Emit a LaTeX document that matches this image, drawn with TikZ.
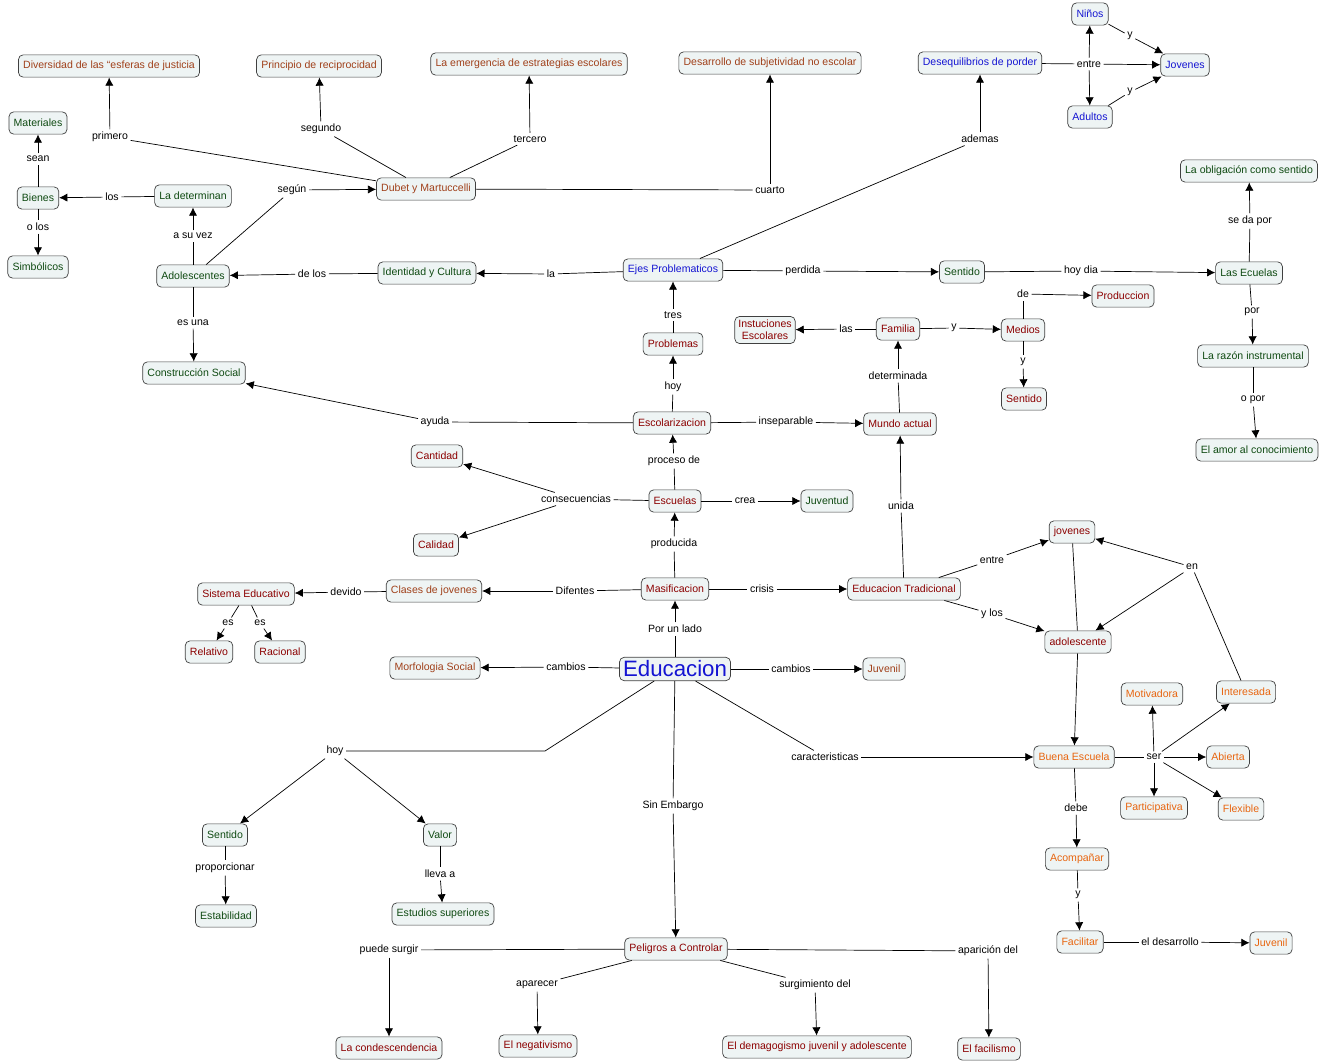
\documentclass[tikz,border=0pt]{standalone}
\usepackage{fontspec}
\setmainfont{Liberation Sans}
\usetikzlibrary{arrows.meta}
\definecolor{cR}{HTML}{A0401A}
\definecolor{cG}{HTML}{0F4A12}
\definecolor{cB}{HTML}{1414D2}
\definecolor{cO}{HTML}{E8650F}
\definecolor{cD}{HTML}{8B0000}
\definecolor{boxfill}{HTML}{EEF4F4}
\begin{document}
\begin{tikzpicture}[x=0.03cm,y=-0.03cm]
\tikzset{every node/.style={font=\fontsize{9}{10.5}\selectfont, align=center, inner sep=2pt}}
\tikzset{box/.style={draw=black!75, fill=boxfill, rounded corners=4pt, inner sep=4pt, minimum height=19pt}}
\tikzset{lbl/.style={fill=white, inner sep=2pt}}
\tikzset{every path/.style={line width=.6pt}}
\tikzset{arr/.style={-{Latex[length=7pt,width=7pt]}}}
\useasboundingbox (0,0) rectangle (1333,1064);
%%%%%%% boxes
\node(div)at(109,66)[box,text=cR]{Diversidad de las “esferas de justicia};
\node(prin)at(319,66)[box,text=cR]{Principio de reciprocidad};
\node(emer)at(529,64)[box,text=cR]{La emergencia de estrategias escolares};
\node(desa)at(770,63)[box,text=cR]{Desarrollo de subjetividad no escolar};
\node(deseq)at(980,63)[box,text=cB]{Desequilibrios de porder};
\node(ninos)at(1090,14)[box,text=cB]{Niños};
\node(jov)at(1185,65)[box,text=cB]{Jovenes};
\node(adul)at(1090,117)[box,text=cB]{Adultos};
\node(mat)at(38,123)[box,text=cG]{Materiales};
\node(bien)at(38,198)[box,text=cG]{Bienes};
\node(simb)at(38,267)[box,text=cG]{Simbólicos};
\node(ladet)at(193,196)[box,text=cG]{La determinan};
\node(dubet)at(426,189)[box,text=cR]{Dubet y Martuccelli};
\node(oblig)at(1249,171)[box,text=cG]{La obligación como sentido};
\node(adol)at(193,276)[box,text=cG]{Adolescentes};
\node(ident)at(427,273)[box,text=cG]{Identidad y Cultura};
\node(ejes)at(673,270)[box,text=cB]{Ejes Problematicos};
\node(sent1)at(962,272)[box,text=cG]{Sentido};
\node(ecuelas)at(1249,273)[box,text=cG]{Las Ecuelas};
\node(produc)at(1123,296)[box,text=cD]{Produccion};
\node(instuc)at(765,330)[box,text=cD,inner sep=3pt]{Instuciones\\Escolares};
\node(familia)at(898,329)[box,text=cD]{Familia};
\node(medios)at(1023,330)[box,text=cD]{Medios};
\node(sent2)at(1024,399)[box,text=cD]{Sentido};
\node(razon)at(1253,356)[box,text=cG]{La razón instrumental};
\node(constr)at(194,373)[box,text=cG]{Construcción Social};
\node(probl)at(673,344)[box,text=cD]{Problemas};
\node(escol)at(672,423)[box,text=cD]{Escolarizacion};
\node(mundo)at(900,424)[box,text=cD]{Mundo actual};
\node(amor)at(1257,450)[box,text=cG]{El amor al conocimiento};
\node(cantidad)at(437,456)[box,text=cD]{Cantidad};
\node(escuelas)at(675,501)[box,text=cD]{Escuelas};
\node(juventud)at(827,501)[box,text=cG]{Juventud};
\node(calidad)at(436,545)[box,text=cD]{Calidad};
\node(jovenes)at(1072,532)[box,text=cD]{jovenes};
\node(sistema)at(246,594)[box,text=cD]{Sistema Educativo};
\node(clases)at(434,591)[box,text=cR]{Clases de jovenes};
\node(masif)at(675,589)[box,text=cD]{Masificacion};
\node(edtrad)at(904,589)[box,text=cD]{Educacion Tradicional};
\node(relativo)at(209,652)[box,text=cD]{Relativo};
\node(racional)at(280,652)[box,text=cD]{Racional};
\node(morfo)at(435,668)[box,text=cR]{Morfologia Social};
\node(educ)at(675,669)[box,text=cB,font=\fontsize{19}{22}\selectfont,inner sep=3pt]{Educacion};
\node(juvenil)at(884,669)[box,text=cR]{Juvenil};
\node(adolesc)at(1078,642)[box,text=cD]{adolescente};
\node(motiv)at(1152,694)[box,text=cO]{Motivadora};
\node(interes)at(1246,692)[box,text=cO]{Interesada};
\node(buena)at(1074,757)[box,text=cO]{Buena Escuela};
\node(abierta)at(1228,757)[box,text=cO]{Abierta};
\node(particip)at(1154,808)[box,text=cO]{Participativa};
\node(flexible)at(1241,809)[box,text=cO]{Flexible};
\node(sent3)at(225,835)[box,text=cG]{Sentido};
\node(valor)at(440,835)[box,text=cG]{Valor};
\node(estab)at(226,916)[box,text=cG]{Estabilidad};
\node(estud)at(443,914)[box,text=cG]{Estudios superiores};
\node(acomp)at(1077,859)[box,text=cO]{Acompañar};
\node(facil)at(1080,942)[box,text=cO]{Facilitar};
\node(juvenil2)at(1271,943)[box,text=cO]{Juvenil};
\node(peligros)at(676,949)[box,text=cD]{Peligros a Controlar};
\node(condes)at(389,1048)[box,text=cD]{La condescendencia};
\node(negat)at(538,1046)[box,text=cD]{El negativismo};
\node(demag)at(817,1047)[box,text=cD]{El demagogismo juvenil y adolescente};
\node(facilis)at(989,1049)[box,text=cD]{El facilismo};
%%%%%%% linking phrases
\node(primero)at(110,137)[lbl]{primero};
\node(segundo)at(321,129)[lbl]{segundo};
\node(tercero)at(530,139)[lbl]{tercero};
\node(cuarto)at(770,190)[lbl]{cuarto};
\node(ademas)at(980,139)[lbl]{ademas};
\node(entre)at(1089,64)[lbl]{entre};
\node(y1)at(1130,36)[lbl]{y};
\node(y2)at(1130,92)[lbl]{y};
\node(sean)at(38,159)[lbl]{sean};
\node(los)at(112,197)[lbl]{los};
\node(olos)at(38,227)[lbl]{o los};
\node(asuvez)at(193,236)[lbl]{a su vez};
\node(segun)at(292,190)[lbl]{según};
\node(delos)at(312,274)[lbl]{de los};
\node(la)at(551,274)[lbl]{la};
\node(perdida)at(803,271)[lbl]{perdida};
\node(hoydia)at(1081,271)[lbl]{hoy dia};
\node(sedapor)at(1250,221)[lbl]{se da por};
\node(por)at(1252,312)[lbl]{por};
\node(de)at(1023,294)[lbl]{de};
\node(las)at(846,329)[lbl]{las};
\node(y3)at(954,328)[lbl]{y};
\node(y4)at(1023,362)[lbl]{y};
\node(tres)at(673,315)[lbl]{tres};
\node(esuna)at(193,323)[lbl]{es una};
\node(hoy1)at(673,387)[lbl]{hoy};
\node(determ)at(898,376)[lbl]{determinada};
\node(opor)at(1253,400)[lbl]{o por};
\node(ayuda)at(435,422)[lbl]{ayuda};
\node(insep)at(786,422)[lbl]{inseparable};
\node(procesode)at(674,461)[lbl]{proceso de};
\node(consec)at(576,499)[lbl]{consecuencias};
\node(crea)at(745,501)[lbl]{crea};
\node(producida)at(674,544)[lbl]{producida};
\node(unida)at(901,506)[lbl]{unida};
\node(entre2)at(992,560)[lbl]{entre};
\node(en)at(1192,567)[lbl]{en};
\node(devido)at(346,592)[lbl]{devido};
\node(difentes)at(575,591)[lbl]{Difentes};
\node(crisis)at(762,589)[lbl]{crisis};
\node(ylos)at(992,614)[lbl]{y los};
\node(es1)at(228,623)[lbl]{es};
\node(es2)at(260,623)[lbl]{es};
\node(porunlado)at(675,629)[lbl]{Por un lado};
\node(cambios1)at(566,667)[lbl]{cambios};
\node(cambios2)at(791,669)[lbl]{cambios};
\node(ser)at(1154,757)[lbl]{ser};
\node(hoy2)at(335,751)[lbl]{hoy};
\node(caract)at(825,757)[lbl]{caracteristicas};
\node(sinemb)at(673,806)[lbl]{Sin Embargo};
\node(debe)at(1076,808)[lbl]{debe};
\node(proporc)at(225,868)[lbl]{proporcionar};
\node(llevaa)at(440,874)[lbl]{lleva a};
\node(y5)at(1078,895)[lbl]{y};
\node(eldes)at(1170,942)[lbl]{el desarrollo};
\node(puede)at(389,950)[lbl]{puede surgir};
\node(aparicion)at(988,951)[lbl]{aparición del};
\node(aparecer)at(537,985)[lbl]{aparecer};
\node(surg)at(815,985)[lbl]{surgimiento del};
\coordinate(bend)at(545,751);
%%%%%%% connectors
\draw (dubet) -- (primero); \draw[arr] (primero) -- (div);
\draw (dubet) -- (segundo); \draw[arr] (segundo) -- (prin);
\draw (dubet) -- (tercero); \draw[arr] (tercero) -- (emer);
\draw (dubet) -- (cuarto); \draw[arr] (cuarto) -- (desa);
\draw (ejes) -- (ademas); \draw[arr] (ademas) -- (deseq);
\draw (deseq) -- (entre); \draw[arr] (entre) -- (ninos); \draw[arr] (entre) -- (adul); \draw[arr] (entre) -- (jov);
\draw (ninos) -- (y1); \draw[arr] (y1) -- (jov);
\draw (adul) -- (y2); \draw[arr] (y2) -- (jov);
\draw (bien) -- (sean); \draw[arr] (sean) -- (mat);
\draw (bien) -- (olos); \draw[arr] (olos) -- (simb);
\draw (ladet) -- (los); \draw[arr] (los) -- (bien);
\draw (adol) -- (asuvez); \draw[arr] (asuvez) -- (ladet);
\draw (adol) -- (segun); \draw[arr] (segun) -- (dubet);
\draw (ident) -- (delos); \draw[arr] (delos) -- (adol);
\draw (ejes) -- (la); \draw[arr] (la) -- (ident);
\draw (ejes) -- (perdida); \draw[arr] (perdida) -- (sent1);
\draw (sent1) -- (hoydia); \draw[arr] (hoydia) -- (ecuelas);
\draw (ecuelas) -- (sedapor); \draw[arr] (sedapor) -- (oblig);
\draw (ecuelas) -- (por); \draw[arr] (por) -- (razon);
\draw (razon) -- (opor); \draw[arr] (opor) -- (amor);
\draw (medios) -- (de); \draw[arr] (de) -- (produc);
\draw (familia) -- (las); \draw[arr] (las) -- (instuc);
\draw (familia) -- (y3); \draw[arr] (y3) -- (medios);
\draw (medios) -- (y4); \draw[arr] (y4) -- (sent2);
\draw (probl) -- (tres); \draw[arr] (tres) -- (ejes);
\draw (adol) -- (esuna); \draw[arr] (esuna) -- (constr);
\draw (escol) -- (hoy1); \draw[arr] (hoy1) -- (probl);
\draw (mundo) -- (determ); \draw[arr] (determ) -- (familia);
\draw (escol) -- (ayuda); \draw[arr] (ayuda) -- (constr);
\draw (escol) -- (insep); \draw[arr] (insep) -- (mundo);
\draw (escuelas) -- (procesode); \draw[arr] (procesode) -- (escol);
\draw (escuelas) -- (consec); \draw[arr] (consec) -- (cantidad); \draw[arr] (consec) -- (calidad);
\draw (escuelas) -- (crea); \draw[arr] (crea) -- (juventud);
\draw (masif) -- (producida); \draw[arr] (producida) -- (escuelas);
\draw (edtrad) -- (unida); \draw[arr] (unida) -- (mundo);
\draw (edtrad) -- (entre2); \draw[arr] (entre2) -- (jovenes);
\draw (edtrad) -- (ylos); \draw[arr] (ylos) -- (adolesc);
\draw (interes) -- (en); \draw[arr] (en) -- (jovenes); \draw[arr] (en) -- (adolesc);
\draw (jovenes) -- (adolesc); \draw[arr] (adolesc) -- (buena);
\draw (clases) -- (devido); \draw[arr] (devido) -- (sistema);
\draw (masif) -- (difentes); \draw[arr] (difentes) -- (clases);
\draw (masif) -- (crisis); \draw[arr] (crisis) -- (edtrad);
\draw (sistema) -- (es1); \draw[arr] (es1) -- (relativo);
\draw (sistema) -- (es2); \draw[arr] (es2) -- (racional);
\draw (educ) -- (porunlado); \draw[arr] (porunlado) -- (masif);
\draw (educ) -- (cambios1); \draw[arr] (cambios1) -- (morfo);
\draw (educ) -- (cambios2); \draw[arr] (cambios2) -- (juvenil);
\draw (buena) -- (ser); \draw[arr] (ser) -- (motiv); \draw[arr] (ser) -- (interes); \draw[arr] (ser) -- (abierta); \draw[arr] (ser) -- (particip); \draw[arr] (ser) -- (flexible);
\draw (educ.south west)++(35,0) -- (bend) -- (hoy2); \draw[arr] (hoy2) -- (sent3); \draw[arr] (hoy2) -- (valor);
\draw (educ) -- (caract); \draw[arr] (caract) -- (buena);
\draw (educ) -- (sinemb); \draw[arr] (sinemb) -- (peligros);
\draw (buena) -- (debe); \draw[arr] (debe) -- (acomp);
\draw (sent3) -- (proporc); \draw[arr] (proporc) -- (estab);
\draw (valor) -- (llevaa); \draw[arr] (llevaa) -- (estud);
\draw (acomp) -- (y5); \draw[arr] (y5) -- (facil);
\draw (facil) -- (eldes); \draw[arr] (eldes) -- (juvenil2);
\draw (peligros) -- (puede); \draw[arr] (puede) -- (condes);
\draw (peligros) -- (aparicion); \draw[arr] (aparicion) -- (facilis);
\draw (peligros) -- (aparecer); \draw[arr] (aparecer) -- (negat);
\draw (peligros) -- (surg); \draw[arr] (surg) -- (demag);
\end{tikzpicture}
\end{document}
